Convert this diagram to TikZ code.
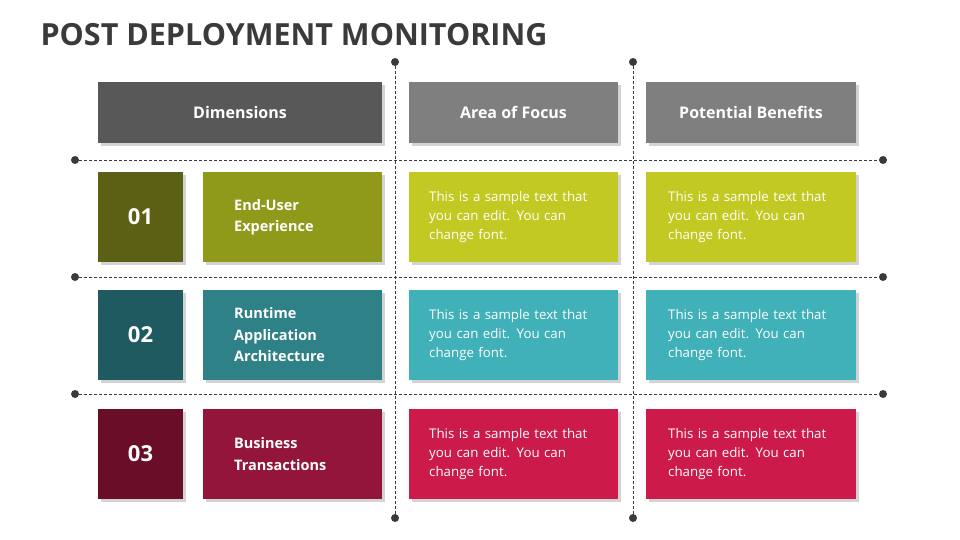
\documentclass[tikz,border=0pt]{standalone}
\usepackage{fontspec}
\setmainfont{Open Sans}
\usetikzlibrary{shadows}
\definecolor{hdA}{HTML}{585858}
\definecolor{hdB}{HTML}{7F7F7F}
\definecolor{gA}{HTML}{5C6014}\definecolor{gB}{HTML}{8F9A1B}\definecolor{gC}{HTML}{C2C923}
\definecolor{tA}{HTML}{1E5A60}\definecolor{tB}{HTML}{2F8188}\definecolor{tC}{HTML}{40B0B9}
\definecolor{rA}{HTML}{6A0E27}\definecolor{rB}{HTML}{93163A}\definecolor{rC}{HTML}{CC1A4B}
\definecolor{ttl}{HTML}{3A3A3A}
\tikzset{
 cell/.style={inner sep=0pt, text=white, drop shadow={shadow xshift=3pt,shadow yshift=-3pt,opacity=0.35}},
 plain/.style={inner sep=0pt, text=white},
 hdr/.style={cell, font=\fontsize{16}{19}\selectfont\bfseries, align=center},
 num/.style={cell, font=\fontsize{22}{26}\selectfont\bfseries},
 lab/.style={plain, font=\fontsize{14.5}{21.5}\selectfont\bfseries, align=left, text width=100pt},
 txt/.style={plain, font=\fontsize{13.3}{19}\selectfont, align=left, text width=180pt},
 sep/.style={densely dashed, draw=ttl, line width=0.8pt},
 dot/.style={circle, fill=ttl, inner sep=0pt, minimum size=8pt}
}
\begin{document}
\begin{tikzpicture}[x=1pt,y=-1pt]
\useasboundingbox (0,0) rectangle (960,540);
\node[anchor=west, text=ttl, font=\fontsize{30.5}{33}\selectfont\bfseries] (title) at (37,35) {POST DEPLOYMENT MONITORING};
\foreach \y/\n in {160/a,277/b,394/c}{
 \node[dot] (l\n) at (75,\y) {}; \node[dot] (r\n) at (883,\y) {};
 \draw[sep] (l\n) -- (r\n);}
\foreach \x/\n in {395/a,633/b}{
 \node[dot] (t\n) at (\x,62) {}; \node[dot] (b\n) at (\x,518) {};
 \draw[sep] (t\n) -- (b\n);}
\node[hdr, fill=hdA, minimum width=284pt, minimum height=61pt] (h1) at (240,112.5) {Dimensions};
\node[hdr, fill=hdB, minimum width=209pt, minimum height=61pt] (h2) at (513.5,112.5) {Area of Focus};
\node[hdr, fill=hdB, minimum width=210pt, minimum height=61pt] (h3) at (751,112.5) {Potential Benefits};
\foreach \yc/\A/\B/\C/\nn/\lab/\i in {217/gA/gB/gC/01/{End-User\\Experience}/1, 335/tA/tB/tC/02/{Runtime\\Application\\Architecture}/2, 454/rA/rB/rC/03/{Business\\Transactions}/3}{
 \node[num, fill=\A, minimum width=85pt, minimum height=90pt] (n\i) at (140.5,\yc) {\nn};
 \node[cell, fill=\B, minimum width=179pt, minimum height=90pt] (lb\i) at (292.5,\yc) {};
 \node[lab, anchor=west] (lt\i) at (234,\yc) {\lab};
 \node[cell, fill=\C, minimum width=209pt, minimum height=90pt] (a\i) at (513.5,\yc) {};
 \node[txt, anchor=west] (at\i) at (429,\yc) {This is a sample text that\\you can edit. You can\\change font.};
 \node[cell, fill=\C, minimum width=210pt, minimum height=90pt] (p\i) at (751,\yc) {};
 \node[txt, anchor=west] (pt\i) at (668,\yc) {This is a sample text that\\you can edit. You can\\change font.};
}
\end{tikzpicture}
\end{document}
